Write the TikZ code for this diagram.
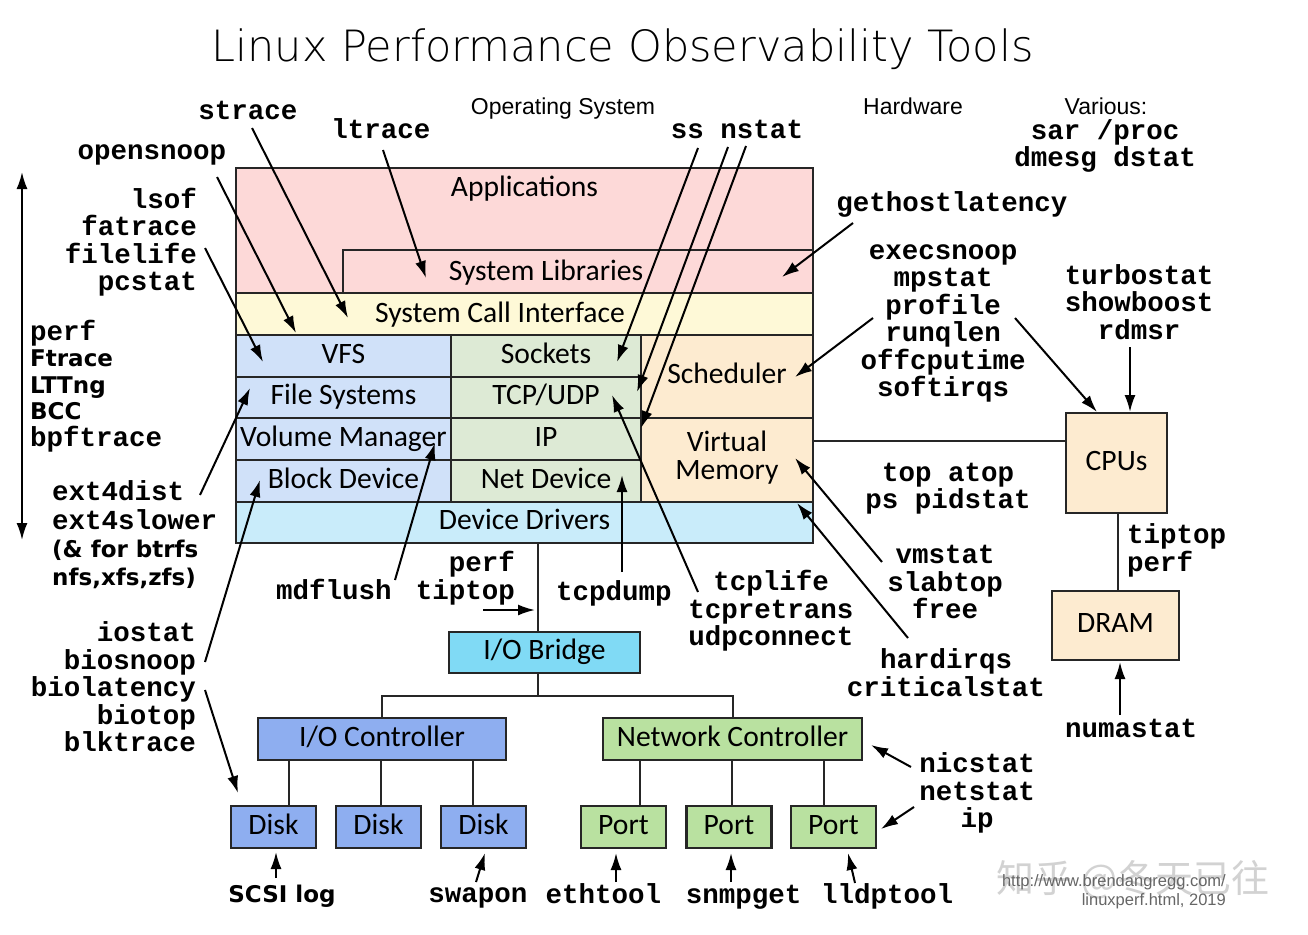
\documentclass[tikz,border=0pt]{standalone}
\usepackage{fontspec}
\setmainfont{Carlito}
\newfontfamily\codefont{Liberation Mono}
\newfontfamily\headfont{Liberation Sans}
\newfontfamily\tagfont{DejaVu Sans}
\newfontfamily\titlefont{DejaVu Sans ExtraLight}
\newfontfamily\markfont{Noto Sans CJK SC}
\usetikzlibrary{arrows.meta}
\newcommand\toolfont{\codefont\bfseries\fontsize{27.5}{27.5}\selectfont}
\newcommand\tagsans{\tagfont\bfseries\fontsize{23}{27}\selectfont}
\newcommand\boxfont{\fontsize{29.6}{28}\selectfont}
\definecolor{appspink}{RGB}{253,217,216}
\definecolor{callyellow}{RGB}{254,249,215}
\definecolor{fsblue}{RGB}{208,225,249}
\definecolor{netgreen}{RGB}{221,234,213}
\definecolor{cpuorange}{RGB}{253,235,208}
\definecolor{drvcyan}{RGB}{201,236,250}
\definecolor{bridgecyan}{RGB}{128,218,245}
\definecolor{diskblue}{RGB}{142,174,240}
\definecolor{portgreen}{RGB}{185,225,160}

\begin{document}
\begin{tikzpicture}[x=1pt, y=-1pt,
  layer/.style={draw=black!85, line width=2.4pt, inner sep=0pt, outer sep=0pt,
    font=\boxfont, text height=19pt, text depth=5pt},
  plain/.style={inner sep=0pt, font=\boxfont},
  lbl/.style={inner sep=0pt, font=\toolfont},
  head/.style={inner sep=0pt, font=\headfont\fontsize{23}{25}\selectfont},
  wire/.style={draw=black!85, line width=2pt},
  probe/.style={draw=black, line width=2pt, -{Latex[length=17pt,width=11pt]}},
]
\useasboundingbox (0,0) rectangle (1308,934);
\fill[white] (0,0) rectangle (1308,934);
% Title and headings
\node[inner sep=0pt, anchor=base, font=\titlefont\fontsize{43.1}{44}\selectfont] (title) at (622.5,62) {Linux Performance Observability Tools};
\node[head, anchor=base] (os) at (563,114) {Operating System};
\node[head, anchor=base] (hw) at (913,114) {Hardware};
\node[head, anchor=base] (var) at (1106,114) {Various:};
\node[lbl, align=center] (various) at (1105,146) {sar /proc\\dmesg dstat};
% Operating system stack
\node[layer, fill=appspink, minimum width=577pt, minimum height=125pt] (apps) at (524.5,230.5) {};
\node[plain, anchor=base] (appstxt) at (524.5,196) {Applications};
\node[layer, fill=appspink, minimum width=470pt, minimum height=43pt] (syslib) at (578,271.5) {};
\node[plain, anchor=base] (syslibtxt) at (546,280) {System Libraries};
\node[layer, fill=callyellow, minimum width=577pt, minimum height=42pt] (syscall) at (524.5,314) {};
\node[plain, anchor=base] (syscalltxt) at (500,322) {System Call Interface};
% file system column
\node[layer, fill=fsblue, minimum width=215pt, minimum height=42pt] (vfs) at (343.5,356) {VFS};
\node[layer, fill=fsblue, minimum width=215pt, minimum height=41pt] (fs) at (343.5,397.5) {File Systems};
\node[layer, fill=fsblue, minimum width=215pt, minimum height=42pt] (volmgr) at (343.5,439) {Volume Manager};
\node[layer, fill=fsblue, minimum width=215pt, minimum height=42pt] (blkdev) at (343.5,481) {Block Device};
% network column
\node[layer, fill=netgreen, minimum width=190pt, minimum height=42pt] (sockets) at (546,356) {Sockets};
\node[layer, fill=netgreen, minimum width=190pt, minimum height=41pt] (tcpudp) at (546,397.5) {TCP/UDP};
\node[layer, fill=netgreen, minimum width=190pt, minimum height=42pt] (ip) at (546,439) {IP};
\node[layer, fill=netgreen, minimum width=190pt, minimum height=42pt] (netdev) at (546,481) {Net Device};
% scheduler and memory
\node[layer, fill=cpuorange, minimum width=172pt, minimum height=83pt] (sched) at (727,376.5) {Scheduler};
\node[layer, fill=cpuorange, minimum width=172pt, minimum height=84pt] (vmem) at (727,460) {};
\node[plain, align=center] (vmemtxt) at (727,458) {Virtual\\Memory};
\node[layer, fill=drvcyan, minimum width=577pt, minimum height=41pt] (drivers) at (524.5,522.5) {Device Drivers};
% I/O path
\node[layer, fill=bridgecyan, minimum width=191pt, minimum height=41pt] (bridge) at (544.5,652.5) {I/O Bridge};
\node[layer, fill=diskblue, minimum width=248pt, minimum height=42pt] (ioctl) at (382,739) {I/O Controller};
\node[layer, fill=portgreen, minimum width=259pt, minimum height=42pt] (netctl) at (732.5,739) {Network Controller};
\foreach \n/\x in {disk1/273.5, disk2/378.5, disk3/483.5}
  \node[layer, fill=diskblue, minimum width=85pt, minimum height=42pt] (\n) at (\x,827) {Disk};
\foreach \n/\x in {port1/623.5, port2/729, port3/833.5}
  \node[layer, fill=portgreen, minimum width=85pt, minimum height=42pt] (\n) at (\x,827) {Port};
% Hardware
\node[layer, fill=cpuorange, minimum width=101pt, minimum height=100pt] (cpus) at (1116.5,463) {CPUs};
\node[layer, fill=cpuorange, minimum width=127pt, minimum height=69pt] (dram) at (1115.5,625.5) {DRAM};
% Bus lines
\draw[wire] (drivers.south -| 538,0) -- (bridge.north -| 538,0);
\draw[wire] (bridge.south -| 538,0) -- (538,696);
\draw[wire] (ioctl.north) -- (ioctl.north |- 0,696) -- (netctl.north |- 0,696) -- (netctl.north);
\foreach \x/\d in {289/disk1, 381/disk2, 473/disk3}
  \draw[wire] (ioctl.south -| \x,0) -- (\d.north -| \x,0);
\foreach \x/\d in {640/port1, 732/port2, 824/port3}
  \draw[wire] (netctl.south -| \x,0) -- (\d.north -| \x,0);
\draw[wire] (vmem.east |- 0,441) -- (cpus.west |- 0,441);
\draw[wire] (cpus.south -| 1118,0) -- (dram.north -| 1118,0);
% Tool labels, left side
\node[lbl, anchor=base] (strace) at (248,119) {strace};
\node[lbl, anchor=base] (ltrace) at (381,138) {ltrace};
\node[lbl, anchor=base] (opensnoop) at (152,159) {opensnoop};
\node[lbl, anchor=east, align=right] (lsofgrp) at (197,242) {lsof\\fatrace\\filelife\\pcstat};
\node[lbl, anchor=west, align=left, font=\codefont\bfseries\fontsize{27.5}{26.5}\selectfont] (perfgrp) at (30,386)
  {perf\\{\tagsans Ftrace}\\{\tagsans LTTng}\\{\tagsans BCC}\\bpftrace};
\node[lbl, anchor=west, align=left, font=\codefont\bfseries\fontsize{27.5}{28.3}\selectfont] (ext4grp) at (52,535)
  {ext4dist\\ext4slower\\{\tagsans (\& for btrfs}\\{\tagsans nfs,xfs,zfs)}};
\node[lbl, anchor=east, align=right] (iogrp) at (196,687) {iostat\\biosnoop\\biolatency\\biotop\\blktrace};
\node[lbl, anchor=base] (mdflush) at (334,599) {mdflush};
\node[lbl, anchor=east, align=right] (tiptopgrp) at (515,578) {perf\\tiptop};
\node[lbl, anchor=base] (tcpdump) at (614,600) {tcpdump};
\node[lbl, align=center] (tcpgrp) at (771,611) {tcplife\\tcpretrans\\udpconnect};
% Tool labels, right side
\node[lbl, anchor=base] (ssnstat) at (737,138) {ss nstat};
\node[lbl, anchor=base] (gethost) at (952,211) {gethostlatency};
\node[lbl, align=center] (execgrp) at (943,323.5) {execsnoop\\mpstat\\profile\\runqlen\\offcputime\\softirqs};
\node[lbl, align=center] (turbogrp) at (1139,302) {turbostat\\showboost\\rdmsr};
\node[lbl, align=center] (topgrp) at (948,488.5) {top atop\\ps pidstat};
\node[lbl, align=center] (vmgrp) at (945,582) {vmstat\\slabtop\\free};
\node[lbl, align=center] (irqgrp) at (946,672.5) {hardirqs\\criticalstat};
\node[lbl, anchor=west, align=left] (dramtool) at (1127,550.5) {tiptop\\perf};
\node[lbl, anchor=base] (numastat) at (1131,737) {numastat};
\node[lbl, align=center] (nicgrp) at (977,793) {nicstat\\netstat\\ip};
% Tool labels, bottom
\node[inner sep=0pt, anchor=base, font=\tagsans] (scsi) at (282,902) {SCSI log};
\node[lbl, anchor=base] (swapon) at (478,902) {swapon};
\node[lbl, anchor=base] (ethtool) at (603.5,903) {ethtool};
\node[lbl, anchor=base] (snmpget) at (743.5,903) {snmpget};
\node[lbl, anchor=base] (lldptool) at (887,903) {lldptool};
% Credits
\node[inner sep=0pt, anchor=center, text=black!22, opacity=0.8, font=\markfont\fontsize{38}{38}\selectfont] (mark) at (1133,880) {知乎 @冬天已往};
\node[inner sep=0pt, anchor=north east, align=right, text=black!60, font=\headfont\fontsize{16.5}{19}\selectfont] (credit) at (1226,874)
  {http://www.brendangregg.com/\\linuxperf.html, 2019};
% Stack span
\coordinate (span-top) at (22,172);
\coordinate (span-bot) at (22,540);
\draw[line width=2pt, {Latex[length=17pt,width=11pt]}-{Latex[length=17pt,width=11pt]}] (span-top) -- (span-bot);
% Tool arrows
\foreach \p/\from/\to in {
  strace/{252,128}/{348,318}, opensnoop/{217,177}/{296,333}, lsof/{205,248}/{263,362},
  ltrace/{383,150}/{426,278}, ssa/{698,148}/{617,362}, ssb/{728,147}/{637,392},
  ssc/{746,146}/{641,428}, gethost/{853,223}/{782,277}, execa/{873,318}/{795,377},
  execb/{1015,318}/{1097,412}, turbo/{1130,347}/{1130,412}, vmstat/{882,562}/{795,458},
  hardirq/{908,638}/{797,503}, tcplife/{698,592}/{612,395}, tcpdump/{622,572}/{622,475},
  tiptop/{483,610}/{535,610}, mdflush/{395,580}/{435,443}, ext4/{200,495}/{250,388},
  iostat/{205,662}/{260,480}, blktrace/{205,690}/{238,793}, scsi/{276,878}/{276,852},
  swapon/{476,882}/{485,853}, ethtool/{616,882}/{616,853}, snmpget/{731,882}/{731,853},
  lldptool/{855,883}/{848,853}, nicstat/{911,767}/{871,745}, netstat/{914,807}/{881,829},
  numastat/{1120,715}/{1120,662}}
{
  \coordinate (\p-a) at (\from);
  \coordinate (\p-b) at (\to);
  \draw[probe] (\p-a) -- (\p-b);
}
\end{tikzpicture}
\end{document}
